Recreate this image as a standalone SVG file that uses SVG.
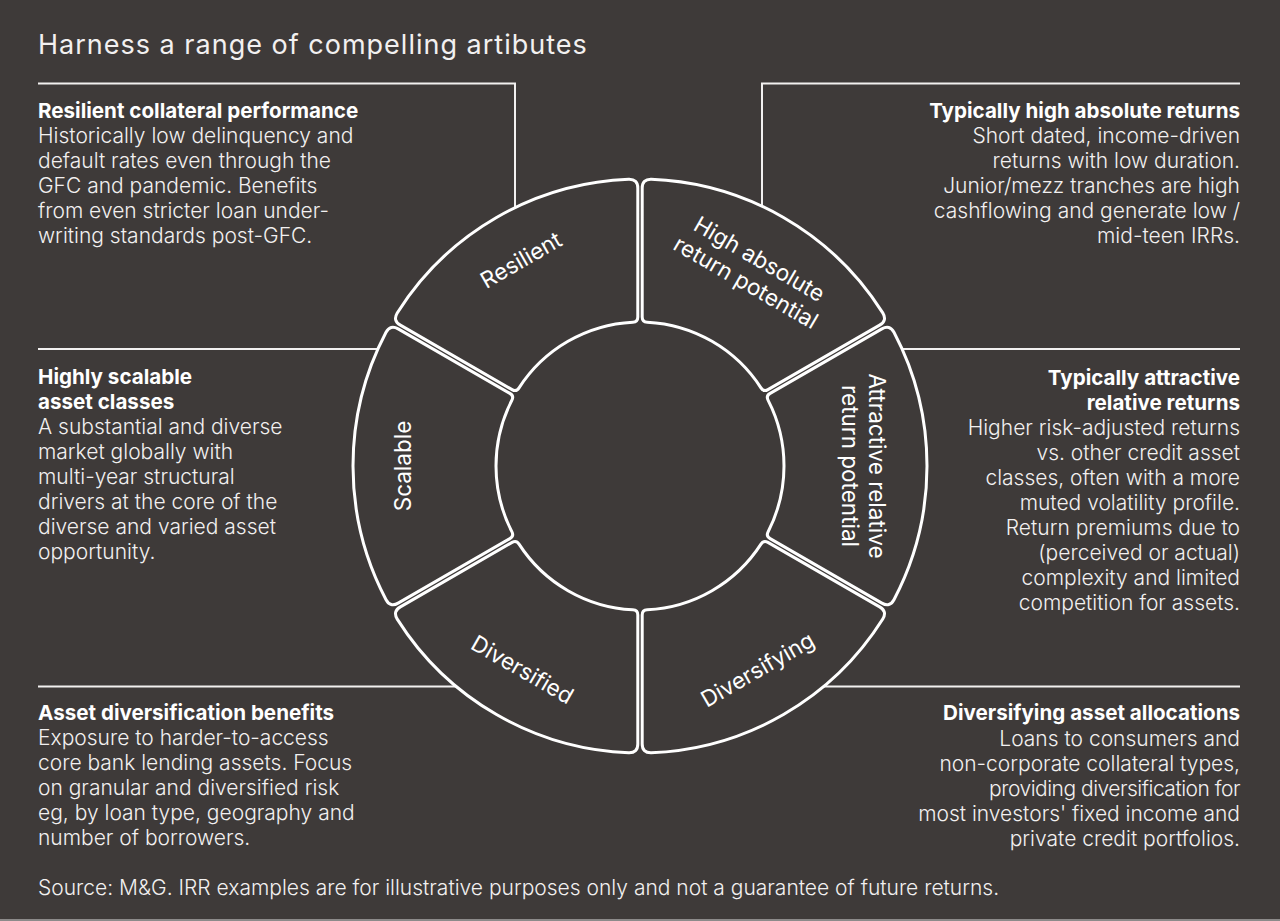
<svg xmlns="http://www.w3.org/2000/svg" width="1280" height="921" viewBox="0 0 1280 921">
<style>
.bg{fill:#3e3a39}
.seg{fill:none;stroke:#ffffff;stroke-width:3;stroke-linejoin:round}
.conn{fill:none;stroke:#f2f0f0;stroke-width:2}
.t{font-family:Inter,"Liberation Sans",Arial,sans-serif;fill:#f2f0f0}
.title{font-size:27px;letter-spacing:1px}
.h{font-size:20.6px;font-weight:700;fill:#ffffff}
.b{font-size:21px;font-weight:300}
.lbl{font-size:22.5px;fill:#ffffff;text-anchor:middle}
.r{text-anchor:end}
.foot{font-size:21px;font-weight:300}
.tight{letter-spacing:-0.5px}
</style>
<defs>
<path id="segshape" d="M 2.2,-277.99 Q 2.2,-286.99 11.2,-286.78 A 287 287 0 0 1 242.76,-153.09 Q 247.45,-145.4 239.65,-140.9 L 127.92,-76.4 Q 123.59,-73.9 120.95,-78.14 A 144 144 0 0 0 7.2,-143.82 Q 2.2,-143.98 2.2,-148.98 Z"/>
</defs>
<rect class="bg" x="0" y="0" width="1280" height="921"/>
<rect x="0" y="919" width="1280" height="2" fill="#8c8a8a"/>

<text id="title" class="t title" x="38" y="54">Harness a range of compelling artibutes</text>

<g id="connectors" class="conn">
<polyline points="38,83.5 515,83.5 515,207.7"/>
<polyline points="1240,83.5 762,83.5 762,206.2"/>
<line x1="38" y1="349" x2="377.9" y2="349"/>
<line x1="902.1" y1="349" x2="1240" y2="349"/>
<line x1="38" y1="686.5" x2="456.3" y2="686.5"/>
<line x1="823.7" y1="686.5" x2="1240" y2="686.5"/>
</g>

<g id="seg-resilient">
<use href="#segshape" class="seg" transform="translate(640 466) rotate(300)"/>
<text class="t lbl" transform="translate(640 466) rotate(-30)" x="0" y="-230">Resilient</text>
</g>
<g id="seg-high-absolute">
<use href="#segshape" class="seg" transform="translate(640 466)"/>
<text class="t lbl" transform="translate(640 466) rotate(30)"><tspan x="0" y="-231">High absolute</tspan><tspan x="0" y="-204">return potential</tspan></text>
</g>
<g id="seg-attractive">
<use href="#segshape" class="seg" transform="translate(640 466) rotate(60)"/>
<text class="t lbl" transform="translate(640 466) rotate(90)"><tspan x="0" y="-229">Attractive relative</tspan><tspan x="0" y="-202">return potential</tspan></text>
</g>
<g id="seg-diversifying">
<use href="#segshape" class="seg" transform="translate(640 466) rotate(120)"/>
<text class="t lbl" transform="translate(640 466) rotate(-30)" x="0" y="243">Diversifying</text>
</g>
<g id="seg-diversified">
<use href="#segshape" class="seg" transform="translate(640 466) rotate(180)"/>
<text class="t lbl" transform="translate(640 466) rotate(30)" x="0" y="243">Diversified</text>
</g>
<g id="seg-scalable">
<use href="#segshape" class="seg" transform="translate(640 466) rotate(240)"/>
<text class="t lbl" transform="translate(640 466) rotate(-90)" x="0" y="-229">Scalable</text>
</g>

<g id="info-resilient">
<text class="t h" x="38" y="118">Resilient collateral performance</text>
<text class="t b"><tspan x="38" y="143">Historically low delinquency and</tspan><tspan x="38" y="168">default rates even through the</tspan><tspan x="38" y="193">GFC and pandemic. Benefits</tspan><tspan x="38" y="218">from even stricter loan under-</tspan><tspan x="38" y="243">writing standards post-GFC.</tspan></text>
</g>
<g id="info-high-absolute">
<text class="t h r" x="1240" y="117.5">Typically high absolute returns</text>
<text class="t b r"><tspan x="1240" y="142.5">Short dated, income-driven</tspan><tspan x="1240" y="167.5">returns with low duration.</tspan><tspan x="1240" y="192.5">Junior/mezz tranches are high</tspan><tspan x="1240" y="217.5">cashflowing and generate low /</tspan><tspan x="1240" y="243">mid-teen IRRs.</tspan></text>
</g>
<g id="info-scalable">
<text class="t h"><tspan x="38" y="384">Highly scalable</tspan><tspan x="38" y="409">asset classes</tspan></text>
<text class="t b"><tspan x="38" y="434">A substantial and diverse</tspan><tspan x="38" y="459">market globally with</tspan><tspan x="38" y="484">multi-year structural</tspan><tspan x="38" y="509">drivers at the core of the</tspan><tspan x="38" y="534">diverse and varied asset</tspan><tspan x="38" y="559">opportunity.</tspan></text>
</g>
<g id="info-attractive">
<text class="t h r"><tspan x="1240" y="385">Typically attractive</tspan><tspan x="1240" y="410">relative returns</tspan></text>
<text class="t b r"><tspan x="1240" y="435">Higher risk-adjusted returns</tspan><tspan x="1240" y="460">vs. other credit asset</tspan><tspan x="1240" y="485">classes, often with a more</tspan><tspan x="1240" y="510">muted volatility profile.</tspan><tspan x="1240" y="535">Return premiums due to</tspan><tspan x="1240" y="560">(perceived or actual)</tspan><tspan x="1240" y="585">complexity and limited</tspan><tspan x="1240" y="610">competition for assets.</tspan></text>
</g>
<g id="info-diversified">
<text class="t h" x="38" y="720">Asset diversification benefits</text>
<text class="t b"><tspan x="38" y="745">Exposure to harder-to-access</tspan><tspan x="38" y="770">core bank lending assets. Focus</tspan><tspan x="38" y="795">on granular and diversified risk</tspan><tspan x="38" y="820">eg, by loan type, geography and</tspan><tspan x="38" y="845">number of borrowers.</tspan></text>
</g>
<g id="info-diversifying">
<text class="t h r" x="1240" y="720">Diversifying asset allocations</text>
<text class="t b r"><tspan x="1240" y="745.5">Loans to consumers and</tspan><tspan x="1240" y="771">non-corporate collateral types,</tspan><tspan x="1240" y="796" class="tight">providing diversification for</tspan><tspan x="1240" y="821">most investors' fixed income and</tspan><tspan x="1240" y="846">private credit portfolios.</tspan></text>
</g>

<text id="source" class="t foot" x="38" y="895">Source: M&amp;G. IRR examples are for illustrative purposes only and not a guarantee of future returns.</text>
</svg>
